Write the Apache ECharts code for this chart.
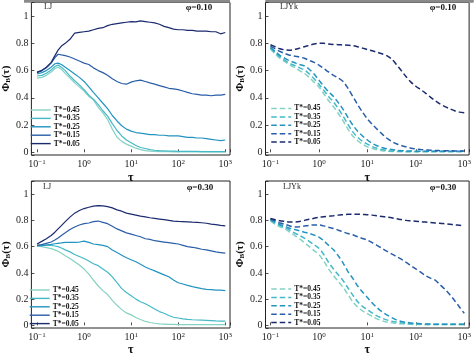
<!DOCTYPE html>
<html><head><meta charset="utf-8">
<script src="https://cdn.jsdelivr.net/npm/echarts@6/dist/echarts.min.js"></script>
<style>html,body{margin:0;padding:0;background:#fff}#c{width:474px;height:357px}</style>
</head><body><div id="c"></div>
<script>
// ---- data ----
const temps = ['T*=0.45', 'T*=0.35', 'T*=0.25', 'T*=0.15', 'T*=0.05'];
const xTicks = [0.1, 1, 10, 100, 1000];
const yTicks = [0, 0.2, 0.4, 0.6, 0.8, 1];
const tau = [0.1,0.126,0.158,0.2,0.24,0.28,0.33,0.398,0.501,0.631,0.794,1,1.26,1.58,2,2.51,3.16,3.98,5.01,6.31,7.94,10,12.6,15.8,20,25.1,31.6,39.8,50.1,63.1,79.4,100,126,158,200,251,316,398,501,631,794,1000];

// LJ, phi = 0.10
const lj010_T045 = [0.545,0.55,0.565,0.59,0.615,0.625,0.61,0.58,0.545,0.51,0.48,0.45,0.41,0.385,0.33,0.29,0.24,0.17,0.11,0.08,0.06,0.045,0.03,0.02,0.012,0.008,0.006,0.005,0.004,0.004,0.003,0.003,0.003,0.003,0.003,0.003,0.003,0.003,0.003,0.003,0.003,0.003];
const lj010_T035 = [0.56,0.565,0.58,0.605,0.63,0.64,0.625,0.60,0.56,0.525,0.495,0.46,0.42,0.39,0.35,0.305,0.265,0.21,0.16,0.12,0.09,0.07,0.05,0.035,0.028,0.02,0.015,0.012,0.01,0.008,0.008,0.007,0.007,0.006,0.006,0.006,0.005,0.005,0.005,0.005,0.005,0.005];
const lj010_T025 = [0.575,0.585,0.60,0.625,0.65,0.655,0.645,0.625,0.60,0.575,0.55,0.52,0.48,0.44,0.40,0.36,0.32,0.27,0.23,0.195,0.17,0.155,0.145,0.14,0.135,0.13,0.13,0.125,0.125,0.12,0.12,0.12,0.115,0.11,0.11,0.105,0.105,0.10,0.095,0.09,0.085,0.09];
const lj010_T015 = [0.59,0.60,0.62,0.655,0.695,0.72,0.715,0.71,0.70,0.685,0.67,0.655,0.645,0.62,0.60,0.585,0.565,0.54,0.52,0.505,0.50,0.515,0.525,0.53,0.52,0.51,0.50,0.49,0.48,0.47,0.465,0.46,0.45,0.44,0.43,0.425,0.42,0.42,0.415,0.42,0.42,0.425];
const lj010_T005 = [0.585,0.60,0.625,0.66,0.71,0.75,0.78,0.80,0.83,0.875,0.88,0.885,0.89,0.90,0.91,0.915,0.93,0.94,0.945,0.95,0.955,0.96,0.958,0.965,0.96,0.955,0.95,0.94,0.925,0.915,0.905,0.90,0.90,0.895,0.895,0.89,0.89,0.89,0.885,0.885,0.87,0.88];

// LJYk, phi = 0.10
const yk010_T045 = [0.76,0.72,0.69,0.665,0.645,0.632,0.62,0.60,0.58,0.55,0.515,0.48,0.43,0.38,0.335,0.285,0.23,0.17,0.12,0.085,0.06,0.04,0.028,0.018,0.012,0.008,0.006,0.005,0.004,0.004,0.003,0.003,0.003,0.003,0.003,0.003,0.003,0.003,0.003,0.003,0.003,0.003];
const yk010_T035 = [0.765,0.73,0.70,0.675,0.655,0.645,0.635,0.62,0.605,0.575,0.54,0.50,0.455,0.41,0.37,0.32,0.265,0.205,0.15,0.11,0.08,0.06,0.042,0.03,0.02,0.014,0.01,0.008,0.007,0.006,0.005,0.005,0.005,0.005,0.005,0.005,0.005,0.005,0.005,0.005,0.005,0.005];
const yk010_T025 = [0.77,0.74,0.71,0.69,0.675,0.665,0.655,0.645,0.635,0.61,0.575,0.53,0.485,0.445,0.41,0.365,0.315,0.255,0.20,0.155,0.12,0.09,0.065,0.048,0.035,0.026,0.02,0.015,0.012,0.01,0.009,0.008,0.008,0.008,0.008,0.008,0.008,0.008,0.008,0.008,0.008,0.008];
const yk010_T015 = [0.78,0.76,0.74,0.725,0.715,0.71,0.705,0.70,0.69,0.675,0.66,0.64,0.615,0.59,0.565,0.545,0.52,0.47,0.41,0.35,0.295,0.245,0.205,0.17,0.135,0.105,0.08,0.063,0.05,0.04,0.03,0.024,0.02,0.017,0.015,0.013,0.012,0.011,0.011,0.01,0.01,0.01];
const yk010_T005 = [0.79,0.775,0.76,0.752,0.75,0.752,0.757,0.765,0.775,0.785,0.795,0.80,0.80,0.795,0.792,0.79,0.788,0.786,0.783,0.775,0.765,0.755,0.745,0.735,0.723,0.71,0.685,0.645,0.60,0.555,0.515,0.485,0.46,0.435,0.405,0.38,0.355,0.335,0.32,0.305,0.295,0.29];

// LJ, phi = 0.30
const lj030_T045 = [0.605,0.60,0.593,0.585,0.575,0.565,0.55,0.53,0.51,0.485,0.46,0.43,0.39,0.345,0.30,0.265,0.235,0.19,0.153,0.12,0.095,0.08,0.06,0.045,0.03,0.022,0.016,0.012,0.01,0.008,0.007,0.006,0.006,0.005,0.005,0.005,0.005,0.005,0.005,0.005,0.005,0.005];
const lj030_T035 = [0.61,0.612,0.612,0.61,0.605,0.60,0.59,0.575,0.56,0.54,0.525,0.51,0.49,0.47,0.455,0.43,0.405,0.37,0.325,0.28,0.25,0.225,0.20,0.18,0.165,0.145,0.125,0.105,0.092,0.075,0.062,0.056,0.05,0.046,0.043,0.041,0.04,0.038,0.036,0.034,0.033,0.032];
const lj030_T025 = [0.605,0.608,0.612,0.617,0.622,0.625,0.628,0.632,0.633,0.632,0.635,0.642,0.632,0.62,0.615,0.61,0.60,0.575,0.555,0.535,0.515,0.50,0.485,0.465,0.445,0.43,0.415,0.40,0.385,0.37,0.345,0.325,0.315,0.305,0.295,0.288,0.28,0.275,0.272,0.268,0.268,0.265];
const lj030_T015 = [0.61,0.615,0.625,0.635,0.65,0.665,0.685,0.705,0.73,0.75,0.765,0.775,0.78,0.79,0.795,0.785,0.775,0.755,0.735,0.72,0.705,0.695,0.685,0.675,0.66,0.655,0.645,0.64,0.635,0.63,0.625,0.62,0.61,0.60,0.595,0.588,0.58,0.575,0.568,0.56,0.555,0.55];
const lj030_T005 = [0.62,0.64,0.66,0.685,0.71,0.735,0.76,0.79,0.825,0.855,0.875,0.89,0.90,0.908,0.912,0.91,0.905,0.895,0.88,0.87,0.855,0.848,0.84,0.832,0.826,0.82,0.815,0.81,0.805,0.80,0.795,0.792,0.79,0.788,0.786,0.785,0.782,0.778,0.772,0.768,0.762,0.758];

// LJYk, phi = 0.30
const yk030_T045 = [0.795,0.77,0.75,0.735,0.715,0.70,0.68,0.66,0.63,0.60,0.57,0.54,0.49,0.43,0.38,0.335,0.29,0.235,0.18,0.14,0.11,0.09,0.068,0.05,0.035,0.026,0.019,0.015,0.012,0.01,0.008,0.007,0.006,0.005,0.005,0.005,0.005,0.005,0.005,0.005,0.005,0.005];
const yk030_T035 = [0.80,0.778,0.76,0.745,0.73,0.715,0.70,0.685,0.665,0.64,0.615,0.588,0.54,0.48,0.43,0.385,0.34,0.285,0.23,0.18,0.145,0.12,0.095,0.072,0.055,0.042,0.032,0.025,0.02,0.016,0.013,0.011,0.01,0.009,0.008,0.008,0.008,0.008,0.008,0.008,0.008,0.008];
const yk030_T025 = [0.805,0.785,0.768,0.755,0.742,0.735,0.728,0.72,0.71,0.70,0.688,0.673,0.645,0.61,0.576,0.53,0.475,0.41,0.358,0.30,0.255,0.213,0.17,0.135,0.104,0.08,0.06,0.042,0.03,0.023,0.018,0.015,0.013,0.011,0.01,0.009,0.008,0.008,0.008,0.008,0.008,0.008];
const yk030_T015 = [0.81,0.795,0.78,0.77,0.76,0.753,0.75,0.752,0.757,0.762,0.765,0.765,0.758,0.748,0.738,0.725,0.712,0.70,0.69,0.675,0.662,0.65,0.63,0.61,0.588,0.565,0.545,0.525,0.504,0.48,0.455,0.43,0.405,0.38,0.36,0.345,0.31,0.275,0.235,0.19,0.14,0.092];
const yk030_T005 = [0.815,0.805,0.797,0.792,0.788,0.787,0.788,0.792,0.80,0.808,0.816,0.823,0.828,0.832,0.836,0.84,0.843,0.846,0.847,0.847,0.845,0.843,0.84,0.835,0.83,0.825,0.82,0.813,0.806,0.80,0.797,0.794,0.79,0.787,0.783,0.78,0.778,0.774,0.77,0.766,0.762,0.758];

const panelModels = ['LJ', 'LJYk', 'LJ', 'LJYk'];
const panelPhi = ['φ=0.10', 'φ=0.10', 'φ=0.30', 'φ=0.30'];
const panelSeries = [
  [lj010_T045, lj010_T035, lj010_T025, lj010_T015, lj010_T005],
  [yk010_T045, yk010_T035, yk010_T025, yk010_T015, yk010_T005],
  [lj030_T045, lj030_T035, lj030_T025, lj030_T015, lj030_T005],
  [yk030_T045, yk030_T035, yk030_T025, yk030_T015, yk030_T005]
];

// ---- style ----
const colors = ['#85d1c3', '#45b9c6', '#2393c0', '#2a5ea8', '#1b2b6e'];
const FONT = '"Liberation Serif", "DejaVu Serif", serif';
const grids = [
  {left: 24, top: 2.5, width: 206, height: 152.5},
  {left: 265.5, top: 2.5, width: 208, height: 152.5},
  {left: 24, top: 181, width: 206, height: 154},
  {left: 265.5, top: 181, width: 208, height: 154}
];
const xRange = [[0.076, 1260], [0.079, 1260], [0.076, 1260], [0.079, 1260]];
const legendPos = [{left: 30, top: 106}, {left: 270.5, top: 104.5}, {left: 29, top: 286}, {left: 270.5, top: 285}];
const yNameGap = [15, 20, 15, 20];
const textPos = [
  {m: [48, 7], p: [199, 7.5]},
  {m: [289, 6.5], p: [443, 7.5]},
  {m: [47, 187], p: [200, 188]},
  {m: [292, 187], p: [443, 188]}
];

const sup = {'-1': '−1', '0': '0', '1': '1', '2': '2', '3': '3'};
function xFmt(v) {
  for (const t of xTicks) {
    if (Math.abs(Math.log10(v) - Math.log10(t)) < 1e-3) {
      return '{b|10}{s|' + sup[String(Math.round(Math.log10(t)))] + '}';
    }
  }
  return '';
}
function yFmt(v) {
  for (const t of yTicks) if (Math.abs(v - t) < 1e-6) return String(t);
  return '';
}

const xAxis = [], yAxis = [], series = [], legend = [], graphic = [];
grids.forEach((g, p) => {
  const dashed = p % 2 === 1;
  xAxis.push({
    type: 'log', logBase: 10, gridIndex: p, min: xRange[p][0], max: xRange[p][1],
    axisLine: {show: false},
    axisTick: {inside: true, length: 3, lineStyle: {color: '#222', width: 0.8}},
    splitLine: {show: false},
    axisLabel: {formatter: xFmt, margin: 4, color: '#222', fontFamily: FONT,
      rich: {b: {fontSize: 10, fontFamily: FONT, color: '#222'},
             s: {fontSize: 7, fontFamily: FONT, color: '#222', verticalAlign: 'top'}}},
    name: 'τ', nameLocation: 'middle', nameGap: p < 2 ? 17 : 16,
    nameTextStyle: {fontFamily: FONT, fontWeight: 'bold', fontSize: 12, color: '#111'}
  });
  yAxis.push({
    type: 'value', gridIndex: p, min: -0.02, max: 1.1,
    axisLine: {show: false},
    axisTick: {inside: true, length: 3, lineStyle: {color: '#222', width: 0.8}},
    splitLine: {show: false},
    axisLabel: {formatter: yFmt, margin: 3, color: '#222', fontSize: 10, fontFamily: FONT},
    name: '{a|Φ}{b|B}{a|(τ)}', nameLocation: 'middle', nameGap: yNameGap[p], nameRotate: 90,
    nameTextStyle: {rich: {
      a: {fontFamily: FONT, fontWeight: 'bold', fontSize: 11, color: '#111'},
      b: {fontFamily: FONT, fontWeight: 'bold', fontSize: 7, color: '#111', verticalAlign: 'bottom'}}}
  });
  const names = temps.map(t => t + '#' + p);
  panelSeries[p].forEach((vals, i) => {
    series.push({
      type: 'line', name: names[i], xAxisIndex: p, yAxisIndex: p,
      data: tau.map((t, k) => [t, vals[k]]),
      symbol: 'none', smooth: dashed ? 0.3 : false, animation: false,
      lineStyle: {color: colors[i], width: dashed ? 1.5 : 1.2, type: dashed ? [5.5, 3] : 'solid'},
      itemStyle: {color: colors[i]}
    });
  });
  legend.push({
    data: names, orient: 'vertical', left: legendPos[p].left, top: legendPos[p].top,
    padding: 0, itemGap: 0.4, itemWidth: 20, itemHeight: 7,
    formatter: n => n.split('#')[0], selectedMode: false,
    itemStyle: {opacity: 0, borderWidth: 0},
    lineStyle: {width: dashed ? 1.5 : 1.4},
    textStyle: {fontFamily: FONT, fontWeight: 'bold', fontSize: 7.5, lineHeight: 7, color: '#111', padding: [0, 0, 0, -2]}
  });
  graphic.push({type: 'rect', shape: {x: g.left, y: 0, width: g.width, height: 2.5}, style: {fill: '#8a8a8a'}, silent: true});
  graphic.push({type: 'text', x: textPos[p].m[0], y: textPos[p].m[1], silent: true,
    style: {text: panelModels[p], font: '8px ' + FONT, fill: '#222', align: 'center', verticalAlign: 'middle'}});
  graphic.push({type: 'text', x: textPos[p].p[0], y: textPos[p].p[1], silent: true,
    style: {text: panelPhi[p], font: 'bold 9px ' + FONT, fill: '#111', align: 'center', verticalAlign: 'middle'}});
});

const chart = echarts.init(document.getElementById('c'), null, {renderer: 'canvas'});
chart.setOption({
  backgroundColor: '#fff',
  animation: false,
  grid: grids.map(g => Object.assign({show: true, borderColor: '#222', borderWidth: 1, backgroundColor: 'transparent', containLabel: false}, g)),
  xAxis, yAxis, series, legend, graphic
});
</script></body></html>
